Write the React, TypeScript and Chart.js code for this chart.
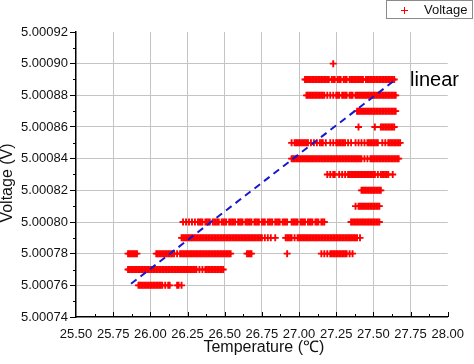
import React, { useEffect, useRef } from "react";
import { Chart, registerables } from "chart.js";

Chart.register(...registerables);

// ---- data ----
const xTickValues = [25.5, 25.75, 26.0, 26.25, 26.5, 26.75, 27.0, 27.25, 27.5, 27.75, 28.0];
const yTickValues = [5.00074, 5.00076, 5.00078, 5.0008, 5.00082, 5.00084, 5.00086, 5.00088, 5.0009, 5.00092];

const voltageLevels = [5.00076, 5.00077, 5.00078, 5.00079, 5.0008, 5.00081, 5.00082, 5.00083, 5.00084, 5.00085, 5.00086, 5.00087, 5.00088, 5.00089, 5.0009];

const t76 = [25.92,25.93,25.94,25.95,25.96,25.97,25.98,25.99,26.00,26.01,26.02,26.03,26.04,26.05,26.06,26.07,26.08,26.10,26.12,26.13,26.18,26.19,26.21];
const t77 = [25.85,25.86,25.87,25.88,25.89,25.90,25.91,25.92,25.93,25.94,25.95,25.96,25.97,25.98,25.99,26.00,26.01,26.02,26.03,26.04,26.05,26.06,26.07,26.08,26.09,26.10,26.11,26.12,26.13,26.14,26.15,26.16,26.17,26.18,26.19,26.20,26.21,26.22,26.23,26.24,26.25,26.26,26.27,26.28,26.29,26.30,26.31,26.33,26.35,26.37,26.38,26.39,26.40,26.41,26.42,26.43,26.44,26.45,26.46,26.47,26.48,26.49];
const t78 = [25.85,25.86,25.87,25.88,25.89,25.90,25.91,26.04,26.05,26.06,26.07,26.08,26.09,26.10,26.11,26.12,26.13,26.14,26.15,26.16,26.18,26.20,26.21,26.22,26.23,26.24,26.25,26.26,26.27,26.28,26.29,26.30,26.31,26.32,26.33,26.34,26.35,26.36,26.37,26.38,26.39,26.40,26.41,26.42,26.43,26.44,26.45,26.46,26.47,26.48,26.49,26.50,26.51,26.52,26.53,26.54,26.65,26.66,26.67,26.68,26.92,27.15,27.17,27.19,27.21,27.22,27.23,27.24,27.25,27.26,27.27,27.28,27.29,27.30,27.31,27.32,27.34,27.36];
const t79 = [26.21,26.22,26.23,26.24,26.25,26.26,26.27,26.28,26.29,26.30,26.31,26.32,26.33,26.34,26.35,26.36,26.37,26.38,26.39,26.40,26.41,26.42,26.43,26.44,26.45,26.46,26.47,26.48,26.49,26.50,26.51,26.52,26.53,26.54,26.55,26.56,26.57,26.58,26.59,26.60,26.61,26.62,26.63,26.64,26.65,26.66,26.67,26.68,26.69,26.70,26.71,26.72,26.73,26.74,26.75,26.77,26.79,26.81,26.84,26.91,26.92,26.93,26.94,26.95,26.97,26.99,27.00,27.01,27.02,27.03,27.04,27.05,27.06,27.07,27.08,27.09,27.10,27.11,27.12,27.13,27.14,27.15,27.16,27.17,27.18,27.19,27.20,27.21,27.22,27.23,27.24,27.25,27.26,27.27,27.28,27.29,27.30,27.31,27.32,27.33,27.34,27.35,27.36,27.37,27.38,27.39,27.41];
const t80 = [26.22,26.24,26.26,26.28,26.30,26.32,26.33,26.34,26.35,26.37,26.38,26.39,26.40,26.42,26.43,26.44,26.45,26.46,26.48,26.49,26.50,26.51,26.53,26.54,26.55,26.56,26.57,26.59,26.60,26.61,26.62,26.64,26.65,26.66,26.67,26.68,26.70,26.71,26.72,26.73,26.75,26.76,26.77,26.79,26.80,26.81,26.82,26.84,26.85,26.86,26.87,26.89,26.90,26.91,26.92,26.95,26.96,26.97,26.98,26.99,27.01,27.02,27.03,27.04,27.06,27.07,27.08,27.09,27.11,27.12,27.13,27.15,27.16,27.17,27.35,27.36,27.37,27.38,27.39,27.40,27.41,27.42,27.43,27.44,27.45,27.46,27.47,27.48,27.49,27.50,27.51,27.52,27.53,27.54];
const t81 = [27.38,27.40,27.41,27.42,27.43,27.44,27.45,27.46,27.47,27.48,27.49,27.50,27.51,27.52,27.53,27.54];
const t82 = [27.42,27.43,27.44,27.45,27.46,27.47,27.48,27.49,27.50,27.51,27.52,27.53,27.54,27.55];
const t83 = [27.19,27.21,27.23,27.24,27.27,27.29,27.31,27.33,27.34,27.35,27.36,27.37,27.38,27.39,27.40,27.41,27.42,27.43,27.44,27.45,27.46,27.47,27.48,27.49,27.50,27.51,27.53,27.55,27.56,27.57,27.58,27.59,27.60,27.63];
const t84 = [26.95,26.96,26.97,26.98,26.99,27.00,27.01,27.02,27.03,27.04,27.05,27.06,27.07,27.08,27.09,27.10,27.11,27.12,27.13,27.14,27.15,27.16,27.17,27.18,27.19,27.20,27.21,27.22,27.23,27.24,27.25,27.26,27.27,27.28,27.29,27.30,27.31,27.32,27.33,27.34,27.35,27.36,27.37,27.38,27.39,27.40,27.41,27.42,27.44,27.46,27.48,27.49,27.50,27.51,27.52,27.53,27.54,27.55,27.56,27.57,27.58,27.59,27.60,27.61,27.62,27.63,27.64,27.65,27.66,27.67];
const t85 = [26.95,26.97,26.98,26.99,27.00,27.01,27.02,27.03,27.04,27.05,27.06,27.08,27.10,27.12,27.14,27.15,27.16,27.18,27.21,27.23,27.25,27.26,27.27,27.28,27.29,27.30,27.31,27.33,27.35,27.38,27.40,27.42,27.44,27.46,27.47,27.48,27.49,27.50,27.51,27.52,27.53,27.56,27.58,27.60,27.61,27.62,27.63,27.64,27.65,27.66,27.67,27.68];
const t86 = [27.40,27.51,27.55,27.56,27.57,27.58,27.59,27.60,27.61,27.62,27.63,27.64];
const t87 = [27.39,27.40,27.41,27.42,27.43,27.44,27.45,27.46,27.47,27.48,27.49,27.50,27.51,27.52,27.53,27.54,27.55,27.56,27.57,27.58,27.59,27.60,27.61,27.62,27.63,27.64,27.65];
const t88 = [27.05,27.06,27.07,27.08,27.09,27.10,27.11,27.12,27.13,27.14,27.15,27.16,27.17,27.19,27.21,27.23,27.25,27.26,27.27,27.29,27.30,27.31,27.32,27.34,27.35,27.36,27.38,27.39,27.40,27.41,27.42,27.43,27.44,27.45,27.46,27.47,27.48,27.49,27.50,27.51,27.52,27.53,27.54,27.55,27.56,27.57,27.58,27.59,27.60,27.61,27.62,27.63,27.64,27.65];
const t89 = [27.04,27.05,27.06,27.07,27.08,27.09,27.10,27.11,27.12,27.13,27.14,27.15,27.16,27.17,27.18,27.19,27.20,27.22,27.23,27.24,27.26,27.27,27.28,27.30,27.31,27.32,27.34,27.35,27.36,27.37,27.38,27.39,27.40,27.41,27.42,27.43,27.45,27.46,27.47,27.48,27.49,27.50,27.51,27.52,27.53,27.54,27.55,27.56,27.57,27.58,27.59,27.60,27.61,27.62,27.63,27.64];
const t90 = [27.23];

const rowTemperatures = [t76, t77, t78, t79, t80, t81, t82, t83, t84, t85, t86, t87, t88, t89, t90];

const fitTemperatures = [25.87, 27.65];
const fitVoltages = [5.000761, 5.00089];

const FONT = "'Liberation Sans', Arial, Helvetica, sans-serif";

export default function App() {
  const ref = useRef<HTMLCanvasElement | null>(null);

  useEffect(() => {
    document.body.style.margin = "0";
    const canvas = ref.current;
    if (!canvas) return;

    const scatterPoints = rowTemperatures.flatMap((temps, i) =>
      temps.map((t) => ({ x: t, y: voltageLevels[i] }))
    );
    const fitPoints = fitTemperatures.map((t, i) => ({ x: t, y: fitVoltages[i] }));

    const overlay = {
      id: "overlay",
      afterDraw(chart: any) {
        const ctx = chart.ctx as CanvasRenderingContext2D;
        const xs = chart.scales.x;
        const ys = chart.scales.y;
        const area = chart.chartArea;
        ctx.save();
        ctx.strokeStyle = "#000";
        ctx.lineWidth = 1;
        // y minor ticks (outward)
        for (let i = 0; i < yTickValues.length - 1; i++) {
          const v = (yTickValues[i] + yTickValues[i + 1]) / 2;
          const py = Math.round(ys.getPixelForValue(v)) + 0.5;
          ctx.beginPath();
          ctx.moveTo(area.left - 3, py);
          ctx.lineTo(area.left, py);
          ctx.stroke();
        }
        // x ticks (inward)
        for (let i = 0; i < xTickValues.length; i++) {
          const px = Math.round(xs.getPixelForValue(xTickValues[i])) + 0.5;
          if (i > 0) {
            ctx.beginPath();
            ctx.moveTo(px, area.bottom);
            ctx.lineTo(px, area.bottom - 5);
            ctx.stroke();
          }
          if (i < xTickValues.length - 1) {
            const m = (xTickValues[i] + xTickValues[i + 1]) / 2;
            const pm = Math.round(xs.getPixelForValue(m)) + 0.5;
            ctx.beginPath();
            ctx.moveTo(pm, area.bottom);
            ctx.lineTo(pm, area.bottom - 3);
            ctx.stroke();
          }
        }
        // axis titles
        ctx.fillStyle = "#111";
        ctx.font = `16px ${FONT}`;
        ctx.textAlign = "center";
        ctx.textBaseline = "alphabetic";
        ctx.fillText("Temperature (\u2103)", (area.left + area.right) / 2 + 2, 352);
        ctx.save();
        ctx.translate(12, 183);
        ctx.rotate(-Math.PI / 2);
        ctx.fillText("Voltage (V)", 0, 0);
        ctx.restore();
        // fit label
        ctx.font = `20px ${FONT}`;
        ctx.textAlign = "left";
        ctx.fillStyle = "#000";
        ctx.fillText("linear", 410, 86);
        // legend
        ctx.strokeStyle = "#8a8a8a";
        ctx.lineWidth = 1;
        ctx.strokeRect(386.5, 0.5, 86, 18);
        ctx.strokeStyle = "#ff0000";
        ctx.beginPath();
        ctx.moveTo(401, 10.5);
        ctx.lineTo(408, 10.5);
        ctx.moveTo(404.5, 7);
        ctx.lineTo(404.5, 14);
        ctx.stroke();
        ctx.fillStyle = "#111";
        ctx.font = `13px ${FONT}`;
        ctx.textBaseline = "middle";
        ctx.fillText("Voltage", 424, 10);
        ctx.restore();
      },
    };

    const gridColor = (ctx: any) => {
      const n = ctx.scale.ticks.length;
      if (ctx.index === 0 || ctx.index === n - 1) return "rgba(0,0,0,0)";
      return "#c4c4c4";
    };

    const chart = new Chart(canvas, {
      type: "scatter",
      data: {
        datasets: [
          {
            type: "line",
            data: fitPoints,
            borderColor: "#1818cc",
            borderWidth: 2,
            borderDash: [7, 5],
            pointRadius: 0,
            showLine: true,
            fill: false,
            order: 0,
          } as any,
          {
            data: scatterPoints,
            pointStyle: "cross",
            pointRadius: 3.5,
            pointBorderWidth: 1.9,
            borderWidth: 1.9,
            borderColor: "#ff0000",
            backgroundColor: "#ff0000",
            pointBorderColor: "#ff0000",
            pointHoverRadius: 3.5,
            order: 1,
          } as any,
        ],
      },
      options: {
        animation: false,
        responsive: false,
        devicePixelRatio: 1,
        events: [],
        layout: { padding: { top: 32, right: 16, left: 0, bottom: 0 } },
        plugins: { legend: { display: false }, tooltip: { enabled: false } },
        scales: {
          x: {
            type: "linear",
            min: 25.5,
            max: 28,
            afterBuildTicks: (s: any) => {
              s.ticks = xTickValues.map((v) => ({ value: v }));
            },
            afterFit: (s: any) => {
              s.height = 47;
            },
            grid: { color: gridColor, drawTicks: false, lineWidth: 1 },
            border: { color: "#000", width: 1.5 },
            ticks: {
              padding: 10,
              color: "#111",
              font: { family: FONT, size: 13 },
              maxRotation: 0,
              autoSkip: false,
              callback: (v: any) => Number(v).toFixed(2),
            },
          },
          y: {
            type: "linear",
            min: 5.00074,
            max: 5.00092,
            afterBuildTicks: (s: any) => {
              s.ticks = yTickValues.map((v) => ({ value: v }));
            },
            afterFit: (s: any) => {
              s.width = 76;
            },
            grid: {
              color: gridColor,
              drawTicks: true,
              tickLength: 6,
              tickColor: "#000",
              tickWidth: 1,
              lineWidth: 1,
            },
            border: { color: "#000", width: 1.5 },
            ticks: {
              padding: 2,
              color: "#111",
              font: { family: FONT, size: 13 },
              autoSkip: false,
              callback: (v: any) => Number(v).toFixed(5),
            },
          },
        },
      },
      plugins: [overlay],
    });

    return () => chart.destroy();
  }, []);

  return (
    <div style={{ width: 474, height: 364 }}>
      <canvas ref={ref} width={474} height={364} style={{ display: "block", width: 474, height: 364 }} />
    </div>
  );
}
